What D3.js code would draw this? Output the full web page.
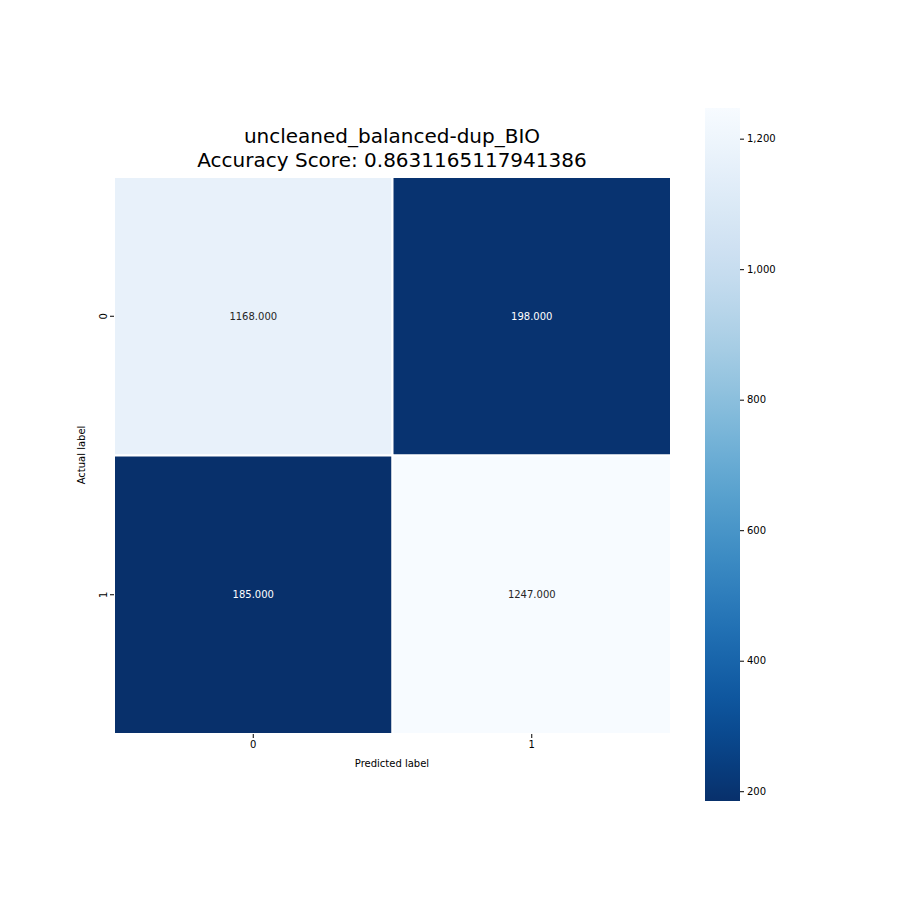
<!DOCTYPE html>
<html><head><meta charset="utf-8">
<script src="https://cdn.jsdelivr.net/npm/d3@7"></script>
<style>body{margin:0;background:#fff}text{font-family:"DejaVu Sans",sans-serif}</style>
</head><body><svg id="c" width="900" height="900"></svg>
<script>
const labels = ["0", "1"];
const matrix = [[1168, 198], [185, 1247]];
const cbTicks = [200, 400, 600, 800, 1000, 1200];
const titleLines = ["uncleaned_balanced-dup_BIO", "Accuracy Score: 0.8631165117941386"];

const svg = d3.select("#c");
const vmin = 185, vmax = 1247;
const color = v => d3.interpolateBlues(1 - (v - vmin) / (vmax - vmin));

const x = d3.scaleBand().domain(labels).range([114, 671]);
const y = d3.scaleBand().domain(labels).range([177, 734]);

const cells = [];
matrix.forEach((row, i) => row.forEach((v, j) => cells.push({r: labels[i], c: labels[j], v})));

svg.append("g").selectAll("rect").data(cells).join("rect")
  .attr("x", d => x(d.c)).attr("y", d => y(d.r))
  .attr("width", x.bandwidth()).attr("height", y.bandwidth())
  .attr("fill", d => color(d.v)).attr("stroke", "#fff").attr("stroke-width", 2);

svg.append("g").selectAll("text").data(cells).join("text")
  .attr("x", d => x(d.c) + x.bandwidth() / 2).attr("y", d => y(d.r) + y.bandwidth() / 2)
  .attr("text-anchor", "middle").attr("dy", "0.35em").attr("font-size", 10)
  .attr("fill", d => (d.v - vmin) / (vmax - vmin) > 0.5 ? "#262626" : "#fff")
  .text(d => d.v.toFixed(3));

svg.append("g").attr("transform", "translate(0,734)")
  .call(d3.axisBottom(x).tickSize(4)).call(g => g.select(".domain").remove())
  .selectAll("text").attr("font-size", 10).attr("font-family", "DejaVu Sans");

const ya = svg.append("g").attr("transform", "translate(114,0)")
  .call(d3.axisLeft(y).tickSize(4)).call(g => g.select(".domain").remove());
ya.selectAll("text").attr("font-size", 10).attr("font-family", "DejaVu Sans")
  .attr("transform", "rotate(-90)").attr("x", 0).attr("y", -11).attr("dy", 0)
  .attr("text-anchor", "middle")
  .each(function(d){ d3.select(this).attr("transform", `translate(${-11},0) rotate(-90)`).attr("x", 0).attr("y", 0).attr("dy", "0.35em"); });

svg.append("text").attr("x", 392).attr("y", 767).attr("text-anchor", "middle").attr("font-size", 10).text("Predicted label");
svg.append("text").attr("transform", "translate(85,455) rotate(-90)").attr("text-anchor", "middle").attr("font-size", 10).text("Actual label");

svg.append("g").selectAll("text").data(titleLines).join("text")
  .attr("x", 392).attr("y", (d, i) => 143 + i * 24).attr("text-anchor", "middle").attr("font-size", 20)
  .text(d => d);

// colorbar
const cy = d3.scaleLinear().domain([vmin, vmax]).range([801, 108]);
const grad = svg.append("defs").append("linearGradient").attr("id", "cb")
  .attr("x1", 0).attr("y1", 1).attr("x2", 0).attr("y2", 0);
d3.range(0, 1.001, 0.05).forEach(t => grad.append("stop").attr("offset", t).attr("stop-color", color(vmin + t * (vmax - vmin))));
svg.append("rect").attr("x", 705).attr("y", 108).attr("width", 35).attr("height", 693).attr("fill", "url(#cb)");
svg.append("g").attr("transform", "translate(740,0)")
  .call(d3.axisRight(cy).tickValues(cbTicks).tickSize(4)).call(g => g.select(".domain").remove())
  .selectAll("text").attr("font-size", 10).attr("font-family", "DejaVu Sans");
</script></body></html>
